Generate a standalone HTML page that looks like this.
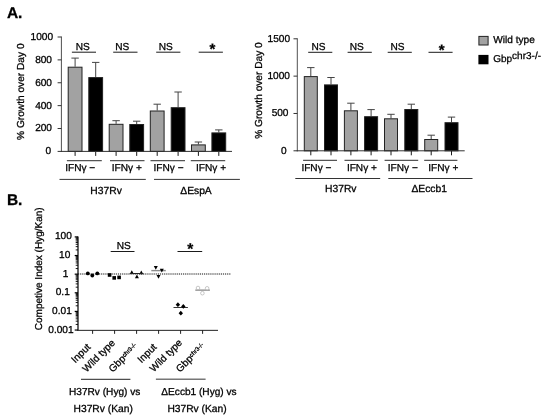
<!DOCTYPE html>
<html><head><meta charset="utf-8"><title>Figure</title>
<style>
html,body{margin:0;padding:0;background:#fff;}
svg{display:block;font-family:"Liberation Sans", Arial, Helvetica, sans-serif;fill:#000;text-rendering:geometricPrecision;}
text{stroke:#000;stroke-width:0.28px;}
</style></head>
<body>
<svg width="550" height="420" viewBox="0 0 550 420">
<rect x="0" y="0" width="550" height="420" fill="#fff"/>
<text x="6.90" y="18.20" font-size="15.5" text-anchor="start" font-weight="bold" >A.</text>
<text x="6.90" y="205.00" font-size="15.5" text-anchor="start" font-weight="bold" >B.</text>
<line x1="75.10" y1="66.70" x2="75.10" y2="58.10" stroke="#444" stroke-width="1"/>
<line x1="71.40" y1="58.10" x2="78.80" y2="58.10" stroke="#444" stroke-width="1"/>
<rect x="68.20" y="67.20" width="13.80" height="84.20" fill="#a2a2a2" stroke="#222" stroke-width="1"/>
<line x1="75.10" y1="151.40" x2="75.10" y2="155.90" stroke="#1a1a1a" stroke-width="1"/>
<line x1="95.70" y1="77.10" x2="95.70" y2="62.40" stroke="#444" stroke-width="1"/>
<line x1="92.00" y1="62.40" x2="99.40" y2="62.40" stroke="#444" stroke-width="1"/>
<rect x="88.80" y="77.60" width="13.80" height="73.80" fill="#000" stroke="#222" stroke-width="1"/>
<line x1="95.70" y1="151.40" x2="95.70" y2="155.90" stroke="#1a1a1a" stroke-width="1"/>
<line x1="116.10" y1="123.80" x2="116.10" y2="120.70" stroke="#444" stroke-width="1"/>
<line x1="112.40" y1="120.70" x2="119.80" y2="120.70" stroke="#444" stroke-width="1"/>
<rect x="109.20" y="124.30" width="13.80" height="27.10" fill="#a2a2a2" stroke="#222" stroke-width="1"/>
<line x1="116.10" y1="151.40" x2="116.10" y2="155.90" stroke="#1a1a1a" stroke-width="1"/>
<line x1="136.70" y1="124.00" x2="136.70" y2="121.20" stroke="#444" stroke-width="1"/>
<line x1="133.00" y1="121.20" x2="140.40" y2="121.20" stroke="#444" stroke-width="1"/>
<rect x="129.80" y="124.50" width="13.80" height="26.90" fill="#000" stroke="#222" stroke-width="1"/>
<line x1="136.70" y1="151.40" x2="136.70" y2="155.90" stroke="#1a1a1a" stroke-width="1"/>
<line x1="157.20" y1="110.50" x2="157.20" y2="104.20" stroke="#444" stroke-width="1"/>
<line x1="153.50" y1="104.20" x2="160.90" y2="104.20" stroke="#444" stroke-width="1"/>
<rect x="150.30" y="111.00" width="13.80" height="40.40" fill="#a2a2a2" stroke="#222" stroke-width="1"/>
<line x1="157.20" y1="151.40" x2="157.20" y2="155.90" stroke="#1a1a1a" stroke-width="1"/>
<line x1="178.10" y1="107.20" x2="178.10" y2="92.00" stroke="#444" stroke-width="1"/>
<line x1="174.40" y1="92.00" x2="181.80" y2="92.00" stroke="#444" stroke-width="1"/>
<rect x="171.20" y="107.70" width="13.80" height="43.70" fill="#000" stroke="#222" stroke-width="1"/>
<line x1="178.10" y1="151.40" x2="178.10" y2="155.90" stroke="#1a1a1a" stroke-width="1"/>
<line x1="198.40" y1="144.40" x2="198.40" y2="142.00" stroke="#444" stroke-width="1"/>
<line x1="194.70" y1="142.00" x2="202.10" y2="142.00" stroke="#444" stroke-width="1"/>
<rect x="191.50" y="144.90" width="13.80" height="6.50" fill="#a2a2a2" stroke="#222" stroke-width="1"/>
<line x1="198.40" y1="151.40" x2="198.40" y2="155.90" stroke="#1a1a1a" stroke-width="1"/>
<line x1="218.80" y1="132.40" x2="218.80" y2="129.90" stroke="#444" stroke-width="1"/>
<line x1="215.10" y1="129.90" x2="222.50" y2="129.90" stroke="#444" stroke-width="1"/>
<rect x="211.90" y="132.90" width="13.80" height="18.50" fill="#000" stroke="#222" stroke-width="1"/>
<line x1="218.80" y1="151.40" x2="218.80" y2="155.90" stroke="#1a1a1a" stroke-width="1"/>
<line x1="61.40" y1="36.50" x2="61.40" y2="151.90" stroke="#505050" stroke-width="1"/>
<line x1="60.90" y1="151.40" x2="232.00" y2="151.40" stroke="#333" stroke-width="1"/>
<line x1="57.60" y1="151.40" x2="61.40" y2="151.40" stroke="#333" stroke-width="1"/>
<text x="51.00" y="154.35" font-size="10.12" text-anchor="end" font-weight="normal" >0</text>
<line x1="57.60" y1="128.52" x2="61.40" y2="128.52" stroke="#333" stroke-width="1"/>
<text x="52.00" y="131.47" font-size="10.12" text-anchor="end" font-weight="normal" >200</text>
<line x1="57.60" y1="105.64" x2="61.40" y2="105.64" stroke="#333" stroke-width="1"/>
<text x="52.00" y="108.59" font-size="10.12" text-anchor="end" font-weight="normal" >400</text>
<line x1="57.60" y1="82.76" x2="61.40" y2="82.76" stroke="#333" stroke-width="1"/>
<text x="52.00" y="85.71" font-size="10.12" text-anchor="end" font-weight="normal" >600</text>
<line x1="57.60" y1="59.88" x2="61.40" y2="59.88" stroke="#333" stroke-width="1"/>
<text x="52.00" y="62.83" font-size="10.12" text-anchor="end" font-weight="normal" >800</text>
<line x1="57.60" y1="37.00" x2="61.40" y2="37.00" stroke="#333" stroke-width="1"/>
<text x="53.10" y="39.95" font-size="10.12" text-anchor="end" font-weight="normal" >1000</text>
<line x1="71.90" y1="52.20" x2="96.00" y2="52.20" stroke="#1a1a1a" stroke-width="1"/>
<text x="82.80" y="50.00" font-size="10.12" text-anchor="middle" font-weight="normal" >NS</text>
<line x1="113.20" y1="52.20" x2="137.50" y2="52.20" stroke="#1a1a1a" stroke-width="1"/>
<text x="122.20" y="50.00" font-size="10.12" text-anchor="middle" font-weight="normal" >NS</text>
<line x1="156.20" y1="52.20" x2="180.40" y2="52.20" stroke="#1a1a1a" stroke-width="1"/>
<text x="165.70" y="50.00" font-size="10.12" text-anchor="middle" font-weight="normal" >NS</text>
<line x1="198.70" y1="52.20" x2="222.90" y2="52.20" stroke="#1a1a1a" stroke-width="1"/>
<text x="212.30" y="54.40" font-size="15" text-anchor="middle" font-weight="bold" >*</text>
<line x1="66.90" y1="160.60" x2="101.80" y2="160.60" stroke="#555" stroke-width="1.2"/>
<text x="65.20" y="171.00" font-size="10.12" text-anchor="start" font-weight="normal" >IFNγ −</text>
<line x1="110.00" y1="160.60" x2="144.50" y2="160.60" stroke="#555" stroke-width="1.2"/>
<text x="111.80" y="171.00" font-size="10.12" text-anchor="start" font-weight="normal" >IFNγ +</text>
<line x1="150.50" y1="160.60" x2="185.00" y2="160.60" stroke="#555" stroke-width="1.2"/>
<text x="153.50" y="171.00" font-size="10.12" text-anchor="start" font-weight="normal" >IFNγ −</text>
<line x1="190.80" y1="160.60" x2="225.20" y2="160.60" stroke="#555" stroke-width="1.2"/>
<text x="196.00" y="171.00" font-size="10.12" text-anchor="start" font-weight="normal" >IFNγ +</text>
<line x1="59.50" y1="179.40" x2="145.80" y2="179.40" stroke="#333" stroke-width="1"/>
<text x="106.10" y="193.70" font-size="10.3" text-anchor="middle" font-weight="normal" >H37Rv</text>
<line x1="154.00" y1="179.40" x2="239.90" y2="179.40" stroke="#333" stroke-width="1"/>
<text x="196.00" y="193.70" font-size="10.3" text-anchor="middle" font-weight="normal" >ΔEspA</text>
<text transform="translate(24.4,91.7) rotate(-90)" font-size="10.17" text-anchor="middle">% Growth over Day 0</text>
<line x1="310.80" y1="76.10" x2="310.80" y2="67.60" stroke="#444" stroke-width="1"/>
<line x1="307.10" y1="67.60" x2="314.50" y2="67.60" stroke="#444" stroke-width="1"/>
<rect x="304.30" y="76.60" width="13.00" height="74.20" fill="#a2a2a2" stroke="#222" stroke-width="1"/>
<line x1="310.80" y1="150.80" x2="310.80" y2="155.30" stroke="#1a1a1a" stroke-width="1"/>
<line x1="331.00" y1="84.40" x2="331.00" y2="77.50" stroke="#444" stroke-width="1"/>
<line x1="327.30" y1="77.50" x2="334.70" y2="77.50" stroke="#444" stroke-width="1"/>
<rect x="324.50" y="84.90" width="13.00" height="65.90" fill="#000" stroke="#222" stroke-width="1"/>
<line x1="331.00" y1="150.80" x2="331.00" y2="155.30" stroke="#1a1a1a" stroke-width="1"/>
<line x1="350.90" y1="110.30" x2="350.90" y2="103.20" stroke="#444" stroke-width="1"/>
<line x1="347.20" y1="103.20" x2="354.60" y2="103.20" stroke="#444" stroke-width="1"/>
<rect x="344.40" y="110.80" width="13.00" height="40.00" fill="#a2a2a2" stroke="#222" stroke-width="1"/>
<line x1="350.90" y1="150.80" x2="350.90" y2="155.30" stroke="#1a1a1a" stroke-width="1"/>
<line x1="371.10" y1="116.20" x2="371.10" y2="109.60" stroke="#444" stroke-width="1"/>
<line x1="367.40" y1="109.60" x2="374.80" y2="109.60" stroke="#444" stroke-width="1"/>
<rect x="364.60" y="116.70" width="13.00" height="34.10" fill="#000" stroke="#222" stroke-width="1"/>
<line x1="371.10" y1="150.80" x2="371.10" y2="155.30" stroke="#1a1a1a" stroke-width="1"/>
<line x1="391.00" y1="118.30" x2="391.00" y2="114.30" stroke="#444" stroke-width="1"/>
<line x1="387.30" y1="114.30" x2="394.70" y2="114.30" stroke="#444" stroke-width="1"/>
<rect x="384.50" y="118.80" width="13.00" height="32.00" fill="#a2a2a2" stroke="#222" stroke-width="1"/>
<line x1="391.00" y1="150.80" x2="391.00" y2="155.30" stroke="#1a1a1a" stroke-width="1"/>
<line x1="411.30" y1="109.00" x2="411.30" y2="104.20" stroke="#444" stroke-width="1"/>
<line x1="407.60" y1="104.20" x2="415.00" y2="104.20" stroke="#444" stroke-width="1"/>
<rect x="404.80" y="109.50" width="13.00" height="41.30" fill="#000" stroke="#222" stroke-width="1"/>
<line x1="411.30" y1="150.80" x2="411.30" y2="155.30" stroke="#1a1a1a" stroke-width="1"/>
<line x1="431.20" y1="139.00" x2="431.20" y2="135.20" stroke="#444" stroke-width="1"/>
<line x1="427.50" y1="135.20" x2="434.90" y2="135.20" stroke="#444" stroke-width="1"/>
<rect x="424.70" y="139.50" width="13.00" height="11.30" fill="#a2a2a2" stroke="#222" stroke-width="1"/>
<line x1="431.20" y1="150.80" x2="431.20" y2="155.30" stroke="#1a1a1a" stroke-width="1"/>
<line x1="451.50" y1="122.20" x2="451.50" y2="117.10" stroke="#444" stroke-width="1"/>
<line x1="447.80" y1="117.10" x2="455.20" y2="117.10" stroke="#444" stroke-width="1"/>
<rect x="445.00" y="122.70" width="13.00" height="28.10" fill="#000" stroke="#222" stroke-width="1"/>
<line x1="451.50" y1="150.80" x2="451.50" y2="155.30" stroke="#1a1a1a" stroke-width="1"/>
<line x1="297.30" y1="38.30" x2="297.30" y2="151.30" stroke="#505050" stroke-width="1"/>
<line x1="296.80" y1="150.80" x2="464.70" y2="150.80" stroke="#333" stroke-width="1"/>
<line x1="293.50" y1="150.80" x2="297.30" y2="150.80" stroke="#333" stroke-width="1"/>
<text x="286.50" y="153.75" font-size="10.12" text-anchor="end" font-weight="normal" >0</text>
<line x1="293.50" y1="113.47" x2="297.30" y2="113.47" stroke="#333" stroke-width="1"/>
<text x="288.50" y="116.42" font-size="10.12" text-anchor="end" font-weight="normal" >500</text>
<line x1="293.50" y1="76.14" x2="297.30" y2="76.14" stroke="#333" stroke-width="1"/>
<text x="290.00" y="79.09" font-size="10.12" text-anchor="end" font-weight="normal" >1000</text>
<line x1="293.50" y1="38.81" x2="297.30" y2="38.81" stroke="#333" stroke-width="1"/>
<text x="290.10" y="41.76" font-size="10.12" text-anchor="end" font-weight="normal" >1500</text>
<line x1="308.20" y1="52.30" x2="332.30" y2="52.30" stroke="#1a1a1a" stroke-width="1"/>
<text x="318.60" y="50.10" font-size="10.12" text-anchor="middle" font-weight="normal" >NS</text>
<line x1="347.60" y1="52.30" x2="371.80" y2="52.30" stroke="#1a1a1a" stroke-width="1"/>
<text x="356.80" y="50.10" font-size="10.12" text-anchor="middle" font-weight="normal" >NS</text>
<line x1="387.70" y1="52.30" x2="411.80" y2="52.30" stroke="#1a1a1a" stroke-width="1"/>
<text x="397.60" y="50.10" font-size="10.12" text-anchor="middle" font-weight="normal" >NS</text>
<line x1="428.50" y1="52.30" x2="452.60" y2="52.30" stroke="#1a1a1a" stroke-width="1"/>
<text x="441.60" y="54.50" font-size="15" text-anchor="middle" font-weight="bold" >*</text>
<line x1="303.10" y1="160.30" x2="337.00" y2="160.30" stroke="#555" stroke-width="1.2"/>
<text x="301.40" y="171.20" font-size="10.12" text-anchor="start" font-weight="normal" >IFNγ −</text>
<line x1="344.50" y1="160.30" x2="377.80" y2="160.30" stroke="#555" stroke-width="1.2"/>
<text x="346.90" y="171.20" font-size="10.12" text-anchor="start" font-weight="normal" >IFNγ +</text>
<line x1="384.60" y1="160.30" x2="418.20" y2="160.30" stroke="#555" stroke-width="1.2"/>
<text x="387.80" y="171.20" font-size="10.12" text-anchor="start" font-weight="normal" >IFNγ −</text>
<line x1="424.20" y1="160.30" x2="457.40" y2="160.30" stroke="#555" stroke-width="1.2"/>
<text x="428.30" y="171.20" font-size="10.12" text-anchor="start" font-weight="normal" >IFNγ +</text>
<line x1="295.30" y1="178.50" x2="380.20" y2="178.50" stroke="#333" stroke-width="1"/>
<text x="340.80" y="192.10" font-size="10.3" text-anchor="middle" font-weight="normal" >H37Rv</text>
<line x1="388.30" y1="178.50" x2="472.50" y2="178.50" stroke="#333" stroke-width="1"/>
<text x="429.20" y="192.10" font-size="10.3" text-anchor="middle" font-weight="normal" >ΔEccb1</text>
<text transform="translate(261.6,90.5) rotate(-90)" font-size="10.17" text-anchor="middle">% Growth over Day 0</text>
<rect x="478.9" y="36.4" width="9.2" height="8.6" fill="#a2a2a2" stroke="#222" stroke-width="1"/>
<rect x="478.4" y="54.9" width="10.1" height="9.4" fill="#000"/>
<text x="493.20" y="43.30" font-size="10.12" text-anchor="start" font-weight="normal" >Wild type</text>
<text x="493.2" y="62.2" font-size="10">Gbp<tspan dy="-3">chr3-/-</tspan></text>
<line x1="78.00" y1="236.40" x2="78.00" y2="330.55" stroke="#000" stroke-width="1.2"/>
<line x1="77.50" y1="330.35" x2="218.00" y2="330.35" stroke="#222" stroke-width="1"/>
<line x1="74.70" y1="236.90" x2="78.00" y2="236.90" stroke="#000" stroke-width="1.2"/>
<text x="71.80" y="239.10" font-size="10.12" text-anchor="end" font-weight="normal" >100</text>
<line x1="75.70" y1="249.92" x2="78.00" y2="249.92" stroke="#000" stroke-width="0.9"/>
<line x1="75.70" y1="246.64" x2="78.00" y2="246.64" stroke="#000" stroke-width="0.9"/>
<line x1="75.70" y1="244.31" x2="78.00" y2="244.31" stroke="#000" stroke-width="0.9"/>
<line x1="75.70" y1="242.51" x2="78.00" y2="242.51" stroke="#000" stroke-width="0.9"/>
<line x1="75.70" y1="241.03" x2="78.00" y2="241.03" stroke="#000" stroke-width="0.9"/>
<line x1="75.70" y1="239.79" x2="78.00" y2="239.79" stroke="#000" stroke-width="0.9"/>
<line x1="75.70" y1="238.71" x2="78.00" y2="238.71" stroke="#000" stroke-width="0.9"/>
<line x1="75.70" y1="237.75" x2="78.00" y2="237.75" stroke="#000" stroke-width="0.9"/>
<line x1="74.70" y1="255.53" x2="78.00" y2="255.53" stroke="#000" stroke-width="1.2"/>
<text x="70.30" y="257.83" font-size="10.12" text-anchor="end" font-weight="normal" >10</text>
<line x1="75.70" y1="268.55" x2="78.00" y2="268.55" stroke="#000" stroke-width="0.9"/>
<line x1="75.70" y1="265.27" x2="78.00" y2="265.27" stroke="#000" stroke-width="0.9"/>
<line x1="75.70" y1="262.94" x2="78.00" y2="262.94" stroke="#000" stroke-width="0.9"/>
<line x1="75.70" y1="261.14" x2="78.00" y2="261.14" stroke="#000" stroke-width="0.9"/>
<line x1="75.70" y1="259.66" x2="78.00" y2="259.66" stroke="#000" stroke-width="0.9"/>
<line x1="75.70" y1="258.42" x2="78.00" y2="258.42" stroke="#000" stroke-width="0.9"/>
<line x1="75.70" y1="257.34" x2="78.00" y2="257.34" stroke="#000" stroke-width="0.9"/>
<line x1="75.70" y1="256.38" x2="78.00" y2="256.38" stroke="#000" stroke-width="0.9"/>
<line x1="74.70" y1="274.16" x2="78.00" y2="274.16" stroke="#000" stroke-width="1.2"/>
<text x="68.40" y="276.56" font-size="10.12" text-anchor="end" font-weight="normal" >1</text>
<line x1="75.70" y1="287.18" x2="78.00" y2="287.18" stroke="#000" stroke-width="0.9"/>
<line x1="75.70" y1="283.90" x2="78.00" y2="283.90" stroke="#000" stroke-width="0.9"/>
<line x1="75.70" y1="281.57" x2="78.00" y2="281.57" stroke="#000" stroke-width="0.9"/>
<line x1="75.70" y1="279.77" x2="78.00" y2="279.77" stroke="#000" stroke-width="0.9"/>
<line x1="75.70" y1="278.29" x2="78.00" y2="278.29" stroke="#000" stroke-width="0.9"/>
<line x1="75.70" y1="277.05" x2="78.00" y2="277.05" stroke="#000" stroke-width="0.9"/>
<line x1="75.70" y1="275.97" x2="78.00" y2="275.97" stroke="#000" stroke-width="0.9"/>
<line x1="75.70" y1="275.01" x2="78.00" y2="275.01" stroke="#000" stroke-width="0.9"/>
<line x1="74.70" y1="292.79" x2="78.00" y2="292.79" stroke="#000" stroke-width="1.2"/>
<text x="69.80" y="295.29" font-size="10.12" text-anchor="end" font-weight="normal" >0.1</text>
<line x1="75.70" y1="305.81" x2="78.00" y2="305.81" stroke="#000" stroke-width="0.9"/>
<line x1="75.70" y1="302.53" x2="78.00" y2="302.53" stroke="#000" stroke-width="0.9"/>
<line x1="75.70" y1="300.20" x2="78.00" y2="300.20" stroke="#000" stroke-width="0.9"/>
<line x1="75.70" y1="298.40" x2="78.00" y2="298.40" stroke="#000" stroke-width="0.9"/>
<line x1="75.70" y1="296.92" x2="78.00" y2="296.92" stroke="#000" stroke-width="0.9"/>
<line x1="75.70" y1="295.68" x2="78.00" y2="295.68" stroke="#000" stroke-width="0.9"/>
<line x1="75.70" y1="294.60" x2="78.00" y2="294.60" stroke="#000" stroke-width="0.9"/>
<line x1="75.70" y1="293.64" x2="78.00" y2="293.64" stroke="#000" stroke-width="0.9"/>
<line x1="74.70" y1="311.42" x2="78.00" y2="311.42" stroke="#000" stroke-width="1.2"/>
<text x="71.80" y="314.02" font-size="10.12" text-anchor="end" font-weight="normal" >0.01</text>
<line x1="75.70" y1="324.44" x2="78.00" y2="324.44" stroke="#000" stroke-width="0.9"/>
<line x1="75.70" y1="321.16" x2="78.00" y2="321.16" stroke="#000" stroke-width="0.9"/>
<line x1="75.70" y1="318.83" x2="78.00" y2="318.83" stroke="#000" stroke-width="0.9"/>
<line x1="75.70" y1="317.03" x2="78.00" y2="317.03" stroke="#000" stroke-width="0.9"/>
<line x1="75.70" y1="315.55" x2="78.00" y2="315.55" stroke="#000" stroke-width="0.9"/>
<line x1="75.70" y1="314.31" x2="78.00" y2="314.31" stroke="#000" stroke-width="0.9"/>
<line x1="75.70" y1="313.23" x2="78.00" y2="313.23" stroke="#000" stroke-width="0.9"/>
<line x1="75.70" y1="312.27" x2="78.00" y2="312.27" stroke="#000" stroke-width="0.9"/>
<line x1="74.70" y1="330.05" x2="78.00" y2="330.05" stroke="#000" stroke-width="1.2"/>
<text x="73.60" y="332.75" font-size="10.12" text-anchor="end" font-weight="normal" >0.001</text>
<text transform="translate(42.1,268.8) rotate(-90)" font-size="10" text-anchor="middle">Competive Index (Hyg/Kan)</text>
<line x1="78.0" y1="274.0" x2="230.5" y2="274.0" stroke="#111" stroke-width="1" stroke-dasharray="1.2,0.9"/>
<line x1="92.60" y1="330.05" x2="92.60" y2="333.85" stroke="#222" stroke-width="1"/>
<line x1="114.60" y1="330.05" x2="114.60" y2="333.85" stroke="#222" stroke-width="1"/>
<line x1="136.60" y1="330.05" x2="136.60" y2="333.85" stroke="#222" stroke-width="1"/>
<line x1="158.60" y1="330.05" x2="158.60" y2="333.85" stroke="#222" stroke-width="1"/>
<line x1="180.60" y1="330.05" x2="180.60" y2="333.85" stroke="#222" stroke-width="1"/>
<line x1="202.60" y1="330.05" x2="202.60" y2="333.85" stroke="#222" stroke-width="1"/>
<line x1="110.70" y1="251.50" x2="134.50" y2="251.50" stroke="#1a1a1a" stroke-width="1"/>
<text x="123.80" y="249.20" font-size="10.12" text-anchor="middle" font-weight="normal" >NS</text>
<line x1="177.50" y1="251.50" x2="202.20" y2="251.50" stroke="#1a1a1a" stroke-width="1"/>
<text x="190.30" y="253.80" font-size="15.5" text-anchor="middle" font-weight="bold" >*</text>
<circle cx="87.8" cy="273.4" r="1.9" fill="#000"/>
<circle cx="92.3" cy="275.5" r="1.9" fill="#000"/>
<circle cx="97.3" cy="273.4" r="1.9" fill="#000"/>
<rect x="107.8" y="273.2" width="3.6" height="3.6" fill="#000"/>
<rect x="112.4" y="276.09999999999997" width="3.6" height="3.6" fill="#000"/>
<rect x="117.3" y="275.59999999999997" width="3.6" height="3.6" fill="#000"/>
<polygon points="129.8,274.0 133.8,274.0 131.8,270.3" fill="#000"/>
<polygon points="134.9,278.2 138.9,278.2 136.9,274.5" fill="#000"/>
<polygon points="139.3,274.3 143.3,274.3 141.3,270.6" fill="#000"/>
<line x1="151.30" y1="270.60" x2="165.80" y2="270.60" stroke="#8c8c8c" stroke-width="1.4"/>
<line x1="129.80" y1="273.50" x2="143.30" y2="273.50" stroke="#222" stroke-width="1"/>
<polygon points="153.8,266.0 157.8,266.0 155.8,269.7" fill="#000"/>
<polygon points="156.5,275.1 160.5,275.1 158.5,278.8" fill="#000"/>
<polygon points="159.8,268.8 163.8,268.8 161.8,272.5" fill="#000"/>
<line x1="173.50" y1="307.50" x2="187.90" y2="307.50" stroke="#333" stroke-width="1"/>
<polygon points="175.70000000000002,304.7 177.9,302.3 180.1,304.7 177.9,307.09999999999997" fill="#000"/>
<polygon points="181.10000000000002,306.4 183.3,304.0 185.5,306.4 183.3,308.79999999999995" fill="#000"/>
<polygon points="178.60000000000002,313.2 180.8,310.8 183.0,313.2 180.8,315.59999999999997" fill="#000"/>
<line x1="195.30" y1="290.10" x2="209.90" y2="290.10" stroke="#666" stroke-width="1"/>
<circle cx="198.0" cy="288.0" r="1.8" fill="#fff" fill-opacity="0.55" stroke="#b0b0b0" stroke-width="0.7"/>
<circle cx="202.4" cy="293.2" r="1.8" fill="#fff" fill-opacity="0.55" stroke="#b0b0b0" stroke-width="0.7"/>
<circle cx="207.1" cy="288.3" r="1.8" fill="#fff" fill-opacity="0.55" stroke="#b0b0b0" stroke-width="0.7"/>
<text transform="translate(91.1,347.7) rotate(-45)" font-size="10" text-anchor="end">Input</text>
<text transform="translate(115.6,343.6) rotate(-45)" font-size="10" text-anchor="end">Wild type</text>
<text transform="translate(138.5,347.1) rotate(-45)" font-size="10" text-anchor="end">Gbp<tspan font-size="6" dy="-2.6">chr3-/-</tspan></text>
<text transform="translate(157.29999999999998,347.7) rotate(-45)" font-size="10" text-anchor="end">Input</text>
<text transform="translate(182.79999999999998,343.4) rotate(-45)" font-size="10" text-anchor="end">Wild type</text>
<text transform="translate(205.7,347.0) rotate(-45)" font-size="10" text-anchor="end">Gbp<tspan font-size="6" dy="-2.6">chr3-/-</tspan></text>
<line x1="81.00" y1="379.30" x2="130.40" y2="379.30" stroke="#222" stroke-width="1"/>
<line x1="155.90" y1="379.30" x2="205.60" y2="379.30" stroke="#777" stroke-width="1.4"/>
<text x="104.70" y="394.60" font-size="10.12" text-anchor="middle" font-weight="normal" >H37Rv (Hyg) vs</text>
<text x="103.20" y="411.80" font-size="10.25" text-anchor="middle" font-weight="normal" >H37Rv (Kan)</text>
<text x="199.00" y="394.60" font-size="10.12" text-anchor="middle" font-weight="normal" >ΔEccb1 (Hyg) vs</text>
<text x="197.00" y="411.80" font-size="10.25" text-anchor="middle" font-weight="normal" >H37Rv (Kan)</text>
</svg>
</body></html>
